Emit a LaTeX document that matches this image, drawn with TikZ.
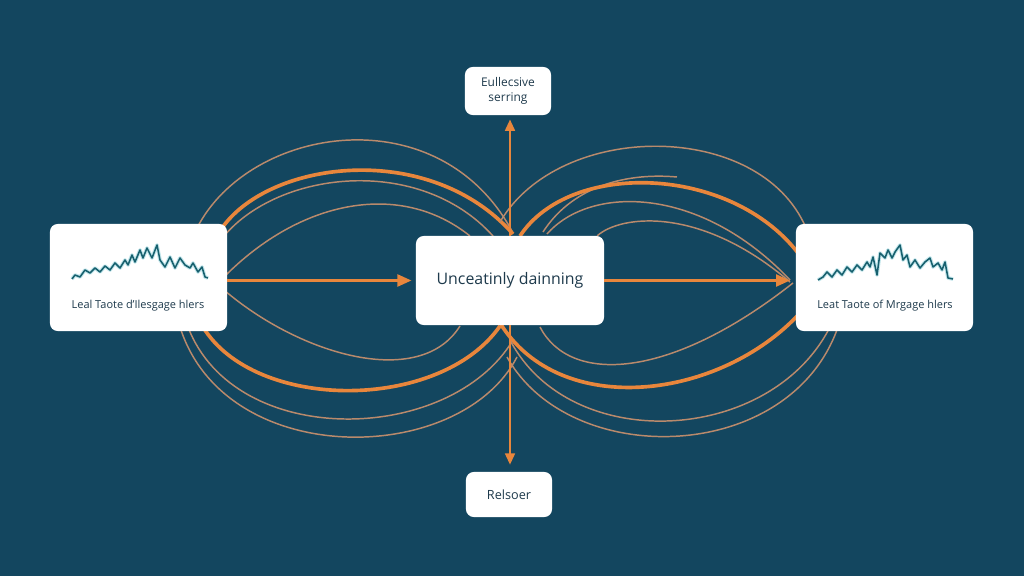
\documentclass[tikz,border=0pt]{standalone}
\usepackage{fontspec}
\setmainfont{Open Sans}
\usetikzlibrary{arrows.meta}
\pgfdeclarelayer{back}
\pgfdeclarelayer{bg}
\pgfsetlayers{back,bg,main}
\definecolor{bgc}{HTML}{13465F}
\definecolor{org}{HTML}{E8863C}
\definecolor{tanc}{HTML}{B98A6C}
\definecolor{ink}{HTML}{1E3A4C}
\definecolor{spark}{HTML}{17606E}
\definecolor{glow}{HTML}{A9DCE3}
\begin{document}
\begin{tikzpicture}[x=0.025cm,y=-0.025cm,
  card/.style={draw=none, fill=white, rounded corners=5.5pt, inner sep=0pt},
  thinc/.style={tanc, line width=1.05pt},
  thickc/.style={org, line width=2.6pt},
  flow/.style={org, line width=1.8pt, -{Triangle[length=10pt,width=8.5pt]}},
  vflow/.style={org, line width=1.4pt, -{Triangle[length=8pt,width=7pt]}},
  lbl/.style={text=ink, font=\fontsize{7.8}{9.5}\selectfont},
  glowl/.style={glow, line width=2.6pt, opacity=0.7, line join=round},
  sparkl/.style={spark, line width=1.1pt, line join=round},
]
\begin{pgfonlayer}{back}
\fill[bgc] (0,0) rectangle (1024,576);
\end{pgfonlayer}
\useasboundingbox (0,0) rectangle (1024,576);

% cards
\node[card, minimum width=4.425cm, minimum height=2.675cm] (L) at (138.5,277.5) {};
\node[card, minimum width=4.425cm, minimum height=2.675cm] (R) at (884.5,277.5) {};
\node[card, minimum width=4.7cm, minimum height=2.225cm, text=ink, font=\fontsize{11.3}{13}\selectfont] (C) at (510,280.5) {Unceatinly dainning};
\node[card, minimum width=2.15cm, minimum height=1.2cm, align=center, text=ink, font=\fontsize{8.5}{10.5}\selectfont] (T) at (508,91) {Eullecsive\\serring};
\node[card, minimum width=2.15cm, minimum height=1.125cm, text=ink, font=\fontsize{9}{11}\selectfont] (B) at (509,494.5) {Relsoer};
\node[lbl] (Lt) at (138,306) {Leal Taote d'Ilesgage hlers};
\node[lbl] (Rt) at (885,306) {Leat Taote of Mrgage hlers};

% sparklines
\def\sparkA{(72,279) -- (75,275) -- (80,277) -- (85,270) -- (90,273) -- (95,268) -- (100,272) -- (105,266) -- (110,270) -- (115,263) -- (120,268) -- (125,260) -- (128,265) -- (132,255) -- (135,262) -- (140,250) -- (143,258) -- (147,248) -- (152,258) -- (157,245) -- (160,260) -- (165,267) -- (170,257) -- (175,268) -- (180,258) -- (185,265) -- (190,268) -- (193,263) -- (198,272) -- (202,267) -- (205,277) -- (208,278)}
\def\sparkB{(818,280) -- (823,277) -- (827,272) -- (832,277) -- (837,270) -- (842,275) -- (847,267) -- (852,272) -- (857,265) -- (862,270) -- (867,262) -- (870,267) -- (873,257) -- (877,275) -- (880,253) -- (885,258) -- (888,250) -- (892,258) -- (895,252) -- (900,245) -- (903,260) -- (907,255) -- (910,267) -- (915,260) -- (920,268) -- (925,262) -- (930,258) -- (933,267) -- (938,263) -- (942,270) -- (945,262) -- (948,278) -- (953,279)}
\draw[glowl] \sparkA;
\draw[sparkl] \sparkA;
\draw[glowl] \sparkB;
\draw[sparkl] \sparkB;

% flow arrows
\draw[flow] (L.east |- C.west) -- ([xshift=-3pt]C.west);
\draw[flow] (C.east) -- ([xshift=-4pt]C.east -| R.west);
\draw[vflow] (C.north) -- ([yshift=-3pt]C.north |- T.south);
\draw[vflow] (C.south) -- ([yshift=5pt]C.south |- B.north);

% decorative field lines behind the cards
\begin{pgfonlayer}{bg}
% top-left
\draw[thinc] (197,228) .. controls (250,125) and (440,95) .. (513,233);
\draw[thickc] (222,228) .. controls (270,160) and (430,140) .. (513,234);
\draw[thinc] (224,236) .. controls (280,170) and (420,155) .. (493,236);
\draw[thinc] (224,277) .. controls (300,200) and (400,180) .. (470,236);
% top-right
\draw[thinc] (500,222) .. controls (560,120) and (760,120) .. (806,228);
\draw[thinc] (543,232) .. controls (570,190) and (620,172) .. (677,177);
\draw[thickc] (520,236) .. controls (570,160) and (730,165) .. (798,253);
\draw[thinc] (547,234) .. controls (590,185) and (700,185) .. (790,280);
\draw[thinc] (597,236) .. controls (620,215) and (700,205) .. (790,282);
% bottom-left
\draw[thinc] (224,290) .. controls (300,355) and (420,390) .. (460,326);
\draw[thickc] (203,327) .. controls (255,412) and (440,412) .. (500,326);
\draw[thinc] (188,327) .. controls (235,450) and (450,445) .. (513,340);
\draw[thinc] (180,327) .. controls (225,470) and (460,467) .. (517,357);
% bottom-right
\draw[thinc] (540,327) .. controls (570,385) and (670,380) .. (793,283);
\draw[thickc] (500,323) .. controls (560,420) and (720,400) .. (800,313);
\draw[thinc] (510,340) .. controls (570,455) and (770,445) .. (830,327);
\draw[thinc] (507,357) .. controls (570,470) and (790,465) .. (838,327);
\end{pgfonlayer}
\end{tikzpicture}
\end{document}
